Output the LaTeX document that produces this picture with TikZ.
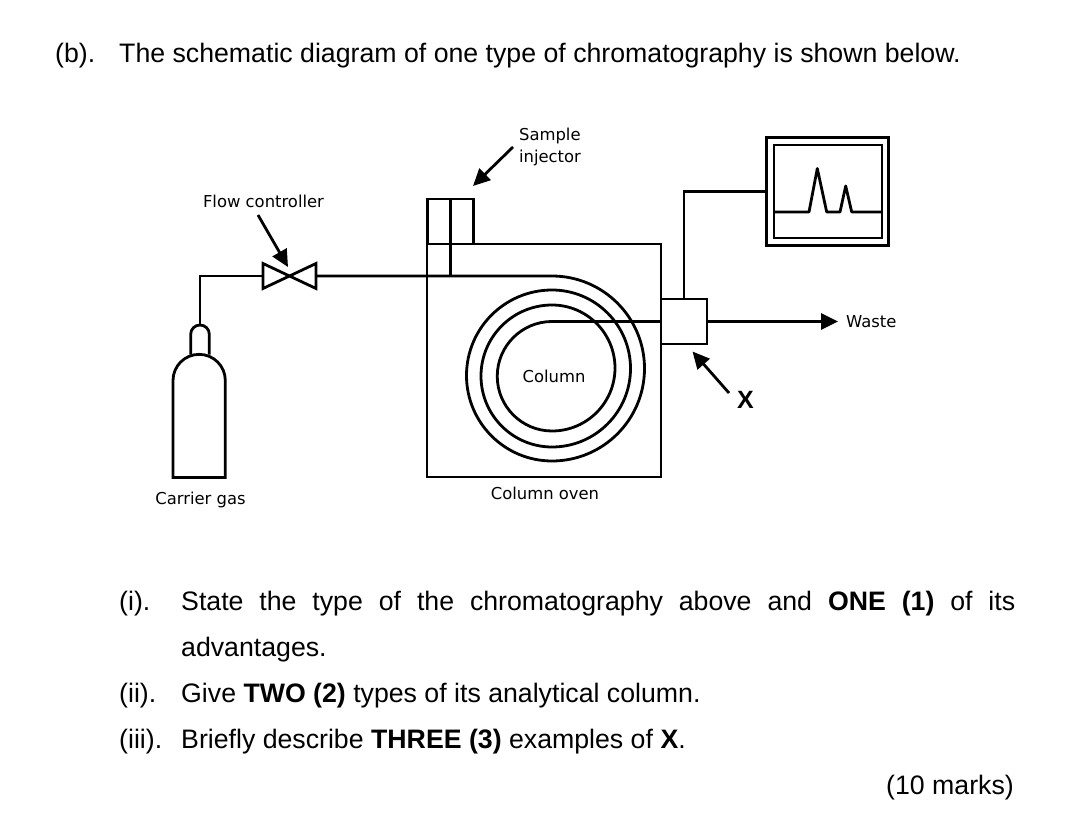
\documentclass[tikz,border=0pt]{standalone}
\usepackage{fontspec}
\setmainfont{Liberation Sans}
\newfontfamily\labelfont{DejaVu Sans}
\usetikzlibrary{arrows.meta}

\begin{document}
\begin{tikzpicture}[x=1pt,y=1pt,yscale=-1,
    pipe/.style={line width=2.8pt,line join=miter},
    unit/.style={draw,line width=2.8pt,inner sep=0pt,outer sep=0pt},
    pointer/.style={line width=2.8pt,-{Triangle[length=17pt,width=16pt]}},
    question/.style={inner sep=0pt,anchor=base west,font=\fontsize{26.7}{30}\selectfont},
    lbl/.style={inner sep=0pt,font=\labelfont\fontsize{16.4}{20.5}\selectfont}]
  \useasboundingbox (0,0) rectangle (1079,834);
  % question text
  \node[question] (part)   at (55,63)   {(b).};
  \node[question] (intro)  at (119,63)  {The schematic diagram of one type of chromatography is shown below.};
  \node[question] (qi)     at (119,610) {(i).};
  \node[question] (qia)    at (181,610) {\makebox[834pt][s]{State the type of the chromatography above and \textbf{ONE (1)} of its}};
  \node[question] (qib)    at (181,656) {advantages.};
  \node[question] (qii)    at (119,702) {(ii).};
  \node[question] (qiia)   at (181,702) {Give \textbf{TWO (2)} types of its analytical column.};
  \node[question] (qiii)   at (119,748) {(iii).};
  \node[question] (qiiia)  at (181,748) {Briefly describe \textbf{THREE (3)} examples of \textbf{X}.};
  \node[question,anchor=base east] (marks) at (1014,794) {(10 marks)};
  % units
  \node[unit,minimum width=234pt,minimum height=233pt] (oven)     at (544,360.5) {};
  \node[unit,minimum width=46pt,minimum height=45pt]   (injector) at (450.5,221.5) {};
  \node[unit,minimum width=46pt,minimum height=45pt]   (detector) at (684,321.5) {};
  \node[unit,minimum width=122pt,minimum height=108pt] (recorder) at (827.5,191.5) {};
  \node[unit,minimum width=108pt,minimum height=93pt]  (screen)   at (828,191.5) {};
  \node[minimum width=53pt,minimum height=25pt,inner sep=0pt,outer sep=0pt] (valve) at (289.5,276) {};
  \coordinate (gastop)   at (200,325);
  \coordinate (coilin)   at (552,276);
  % labels
  \node[lbl] (sample) at (550,147.5) {\begin{tabular}{@{}l@{}}Sample\\[1.5pt] injector\end{tabular}};
  \node[lbl] (flow)   at (263.5,201) {Flow controller};
  \node[lbl] (carrier) at (200.5,500) {Carrier gas};
  \node[lbl] (column) at (554,376) {Column};
  \node[lbl] (ovenlbl) at (545,493) {Column oven};
  \node[lbl,anchor=west] (waste) at (846,321.5) {Waste};
  \node[inner sep=0pt,font=\bfseries\fontsize{25}{28}\selectfont] (xlbl) at (745.5,400) {X};
  \coordinate (sampleend) at (513,147);
  \coordinate (sampletip) at (473,186);
  \coordinate (flowend)   at (258,215);
  \coordinate (flowtip)   at (288,267);
  \coordinate (xend)      at (729,393);
  \coordinate (xtip)      at (692.5,351.5);
  % injector split
  \draw[pipe] (injector.north) -- (injector.north |- valve.east);
  % gas cylinder
  \draw[pipe] (173,477.5) -- (173,380.5) arc (180:360:26.15) -- (225.3,477.5) -- cycle;
  \draw[pipe] (190.7,354.5) -- (190.7,334.3) arc (180:360:9.3) -- (209.3,354.5);
  % valve
  \draw[pipe] (valve.north west) -- (valve.south east) -- (valve.north east) -- (valve.south west) -- cycle;
  \draw[pipe] (gastop) |- (valve.west);
  % coil
  \draw[pipe] (valve.east) -- (coilin) arc (-90:90:92.5) arc (90:270:85.5) arc (-90:90:78.5)
     arc (90:270:71) arc (-90:90:63) arc (90:270:54.75) -- (detector.west);
  % outlet and recorder
  \draw[pipe] (detector.north) |- (recorder.west);
  \draw[pointer] (detector.east) -- ([xshift=-8pt]waste.west);
  \draw[pipe,line join=round] (screen.west |- 0,212) -- (809,212) -- (817.3,168.5) -- (826.7,212) -- (840,212)
     -- (845.7,186) -- (851.7,212) -- (screen.east |- 0,212);
  % pointers
  \draw[pointer] (sampleend) -- (sampletip);
  \draw[pointer] (flowend) -- (flowtip);
  \draw[pointer] (xend) -- (xtip);
\end{tikzpicture}
\end{document}
